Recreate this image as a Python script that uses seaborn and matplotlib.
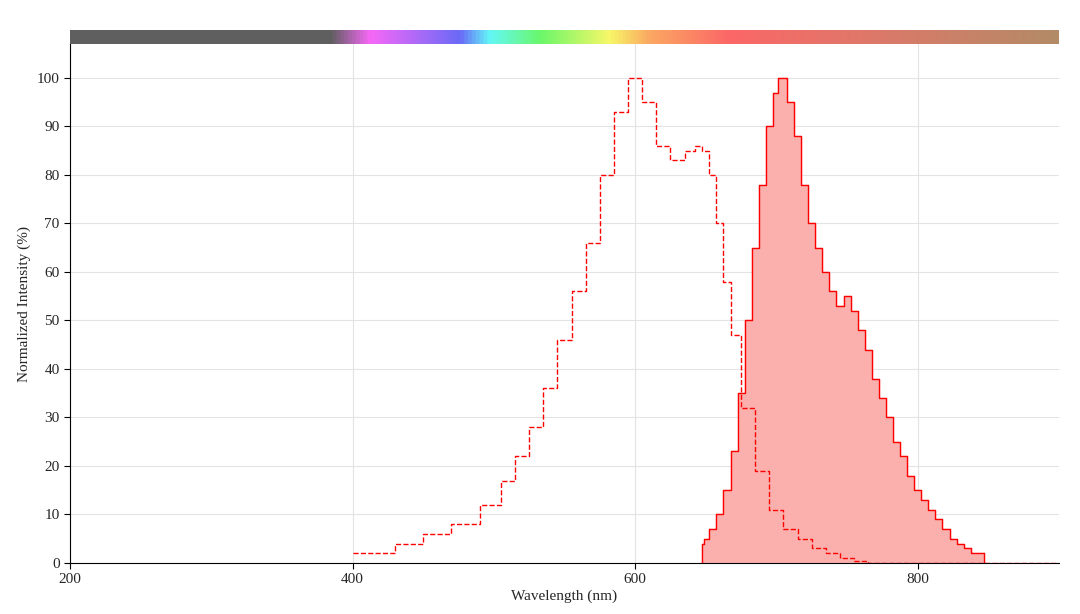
import numpy as np
import matplotlib.pyplot as plt
import seaborn as sns
from matplotlib.colors import LinearSegmentedColormap

# excitation (dashed)
ex_wl = [400, 420, 440, 460, 480, 500, 510, 520, 530, 540, 550, 560, 570, 580, 590, 600,
         610, 620, 630, 640, 645, 650, 655, 660, 665, 670, 680, 690, 700, 710, 720, 730,
         740, 750, 760, 770, 800, 850, 900]
ex_val = [2, 2, 4, 6, 8, 12, 17, 22, 28, 36, 46, 56, 66, 80, 93, 100,
          95, 86, 83, 85, 86, 85, 80, 70, 58, 47, 32, 19, 11, 7, 5, 3,
          2, 1, 0.5, 0, 0, 0, 0]

# emission (filled)
em_wl = [647, 650, 655, 660, 665, 670, 675, 680, 685, 690, 695, 700, 702, 705, 710, 715,
         720, 725, 730, 735, 740, 745, 750, 755, 760, 765, 770, 775, 780, 785, 790, 795,
         800, 805, 810, 815, 820, 825, 830, 835, 840, 847]
em_val = [4, 5, 7, 10, 15, 23, 35, 50, 65, 78, 90, 97, 100, 100, 95, 88,
          78, 70, 65, 60, 56, 53, 55, 52, 48, 44, 38, 34, 30, 25, 22, 18,
          15, 13, 11, 9, 7, 5, 4, 3, 2, 2]

# spectrum bar stops (wavelength, colour)
bar_wl = [200, 384, 412, 476, 497, 533, 582, 610, 667, 760, 900]
bar_col = ['#5f5f5f', '#5f5f5f', '#f768f7', '#6a6af7', '#63f7f7', '#6af76a',
           '#f7f768', '#fba962', '#fb6767', '#e0776a', '#b38b66']

sns.set_style('whitegrid')
plt.rcParams['font.family'] = ['Liberation Serif', 'DejaVu Serif']

fig = plt.figure(figsize=(10.8, 6.14), dpi=100)
ax = fig.add_axes([70 / 1080, 1 - 563 / 614, 989 / 1080, (563 - 44) / 614])
bar = fig.add_axes([70 / 1080, 1 - 44 / 614, 989 / 1080, 14 / 614])

ax.plot(ex_wl, ex_val, color='red', linestyle='--', linewidth=1, drawstyle='steps-mid')
ax.fill_between(em_wl, em_val, color='#fbb0ae', step='mid')
ax.plot(em_wl, em_val, color='red', linewidth=1, drawstyle='steps-mid')
ax.plot([em_wl[0], em_wl[0]], [0, em_val[0]], color='red', linewidth=1)
ax.plot([em_wl[-1], em_wl[-1]], [0, em_val[-1]], color='red', linewidth=1)

ax.set_xlim(200, 900)
ax.set_ylim(0, 107)
ax.set_xticks(range(200, 901, 200))
ax.set_yticks(range(0, 101, 10))
ax.grid(color='#e3e3e3', linewidth=0.8)
for s in ['top', 'right']:
    ax.spines[s].set_visible(False)
for s in ['left', 'bottom']:
    ax.spines[s].set_color('black')
ax.tick_params(labelsize=11, length=4, color='black', left=True, bottom=True)
ax.set_xlabel('Wavelength (nm)', fontsize=11, labelpad=2)
ax.set_ylabel('Normalized Intensity (%)', fontsize=11)

pos = [(w - 200) / 700 for w in bar_wl]
cmap = LinearSegmentedColormap.from_list('spec', list(zip(pos, bar_col)))
bar.imshow(np.linspace(0, 1, 512)[None, :], aspect='auto', cmap=cmap, extent=[200, 900, 0, 1])
bar.axis('off')

fig.savefig('out.png', dpi=100)
